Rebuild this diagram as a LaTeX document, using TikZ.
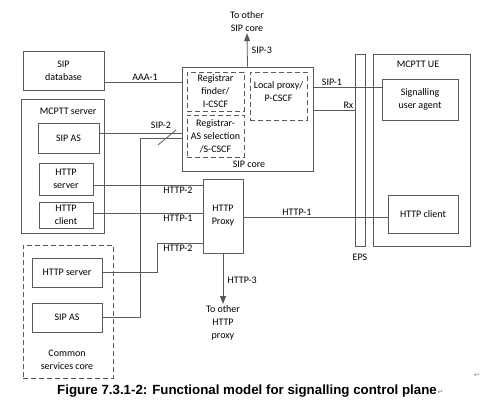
\documentclass[tikz,border=0pt]{standalone}
\usepackage{fontspec}
\setmainfont{Carlito}
\newfontfamily\capfont{Liberation Sans}
\newfontfamily\markfont{DejaVu Sans}
\usetikzlibrary{arrows.meta}

\definecolor{linegray}{RGB}{90,90,90}

\begin{document}
\begin{tikzpicture}[x=1pt,y=-1pt,>={Triangle[length=8pt,width=6pt]},
  every node/.style={font=\fontsize{10}{13}\selectfont},
  conn/.style={linegray,line width=0.8pt},
  box/.style={draw=linegray,line width=0.8pt,inner sep=1pt,align=center},
  dbox/.style={box,dash pattern=on 5pt off 3pt},
  lbl/.style={inner sep=1.5pt,align=center},
  pmark/.style={inner sep=0.5pt,text=gray,font=\markfont\fontsize{7}{8}\selectfont}]
  \useasboundingbox (0,0) rectangle (501,419);

  % left column
  \node[box,minimum width=81pt,minimum height=39pt] (sipdb) at (63.5,70.5) {SIP\\database};
  \node[box,minimum width=83pt,minimum height=134pt] (mcpttsrv) at (62.5,166) {};
  \node[lbl] (srvlbl) at (68,111) {MCPTT server};
  \node[box,minimum width=61pt,minimum height=30pt] (srvsipas) at (68.5,138) {SIP AS};
  \node[box,minimum width=54pt,minimum height=32pt] (srvhttps) at (66,179) {HTTP\\server};
  \node[box,minimum width=54pt,minimum height=26pt] (srvhttpc) at (66,215) {HTTP\\client};

  \node[dbox,minimum width=90pt,minimum height=133pt] (csc) at (68,311.5) {};
  \node[box,minimum width=70pt,minimum height=29pt] (cshttps) at (67,272.5) {HTTP server};
  \node[box,minimum width=70pt,minimum height=29pt] (cssipas) at (67,317.5) {SIP AS};
  \node[lbl] (csclbl) at (67,360) {Common\\services core};

  % SIP core
  \node[box,minimum width=131pt,minimum height=104pt] (sipcore) at (247.5,119) {};
  \node[lbl] (corelbl) at (249,164) {SIP core};
  \node[dbox,minimum width=57pt,minimum height=39pt] (icscf) at (215.5,91.5) {Registrar\\finder/\\I-CSCF};
  \node[dbox,minimum width=57pt,minimum height=42pt] (scscf) at (215.5,136) {Registrar-\\AS selection\\/S-CSCF};
  \node[dbox,minimum width=57pt,minimum height=48pt,text depth=8.5pt] (pcscf) at (278.5,96) {Local proxy/\\P-CSCF};
  \node[lbl] (othersip) at (247,21.5) {To other\\SIP core};

  % HTTP proxy
  \node[box,minimum width=40pt,minimum height=74pt] (proxy) at (223,216) {HTTP\\Proxy};
  \node[lbl] (otherhttp) at (223,323) {To other\\HTTP\\proxy};

  % EPS and UE
  \node[box,minimum width=10pt,minimum height=192pt] (eps) at (360,150) {};
  \node[lbl] (epslbl) at (360,257) {EPS};
  \node[box,minimum width=97pt,minimum height=192pt] (ue) at (421.5,150) {};
  \node[lbl] (uelbl) at (418,64) {MCPTT UE};
  \node[box,minimum width=76pt,minimum height=41pt] (sua) at (420,99.5) {Signalling\\user agent};
  \node[box,minimum width=70pt,minimum height=38pt] (uehttpc) at (423,214) {HTTP client};

  % reference points
  \node[lbl,anchor=south] (aaalbl) at (145,82) {AAA-1};
  \node[lbl] (sip2lbl) at (161,125) {SIP-2};
  \node[lbl,anchor=west] (sip3lbl) at (250,50) {SIP-3};
  \node[lbl,anchor=south] (sip1lbl) at (332,87) {SIP-1};
  \node[lbl,anchor=south east] (rxlbl) at (355,110) {Rx};
  \node[lbl,anchor=north] (h2up) at (178,185) {HTTP-2};
  \node[lbl,anchor=north] (h1left) at (178,213) {HTTP-1};
  \node[lbl,anchor=north] (h2low) at (178,243) {HTTP-2};
  \node[lbl,anchor=south] (h1right) at (297,217) {HTTP-1};
  \node[lbl,anchor=west] (h3lbl) at (226,280) {HTTP-3};
  \coordinate (sip2bend) at (140,138);
  \coordinate (h2bend) at (157,243);

  % connectors
  \draw[conn] (sipdb.east |- aaalbl.south) -- (sipcore.west |- aaalbl.south);
  \draw[conn] ([yshift=5pt]srvsipas.east) -- ([yshift=5pt]srvsipas.east -| sipcore.west);
  \draw[conn] (cssipas.east) -| (sip2bend) -- (sipcore.west |- sip2bend);
  \draw[conn] (158,145) -- (176,130);
  \draw[conn] (srvhttps.east |- h2up.north) -- (proxy.west |- h2up.north);
  \draw[conn] (srvhttpc.east |- h1left.north) -- (proxy.west |- h1left.north);
  \draw[conn] (cshttps.east) -| (h2bend) -- (proxy.west |- h2bend);
  \draw[conn] (proxy.east |- h1right.south) -- (uehttpc.west |- h1right.south);
  \draw[conn] (sipcore.east |- sip1lbl.south) -- (sua.west |- sip1lbl.south);
  \draw[conn] (sipcore.east |- rxlbl.south) -- (eps.west |- rxlbl.south);
  \draw[conn,->] (sipcore.north) -- (othersip.south);
  \draw[conn,->] (proxy.south) -- (otherhttp.north);

  % caption
  \node[anchor=base west,inner sep=0pt,font=\capfont\bfseries\fontsize{13.3}{15}\selectfont]
    (caption) at (57,394.5) {Figure 7.3.1-2: Functional model for signalling control plane};
  \node[pmark,anchor=base west] (capmark) at (caption.base east) {↵};
  \node[pmark] (endmark) at (477,375) {↵};
\end{tikzpicture}
\end{document}
